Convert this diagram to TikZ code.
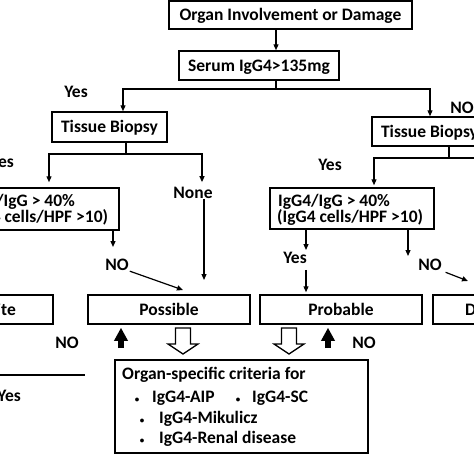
\documentclass[tikz,border=0pt]{standalone}
\usepackage{fontspec}
\setmainfont{Carlito}
\usetikzlibrary{arrows.meta,calc}
\newcommand\bx{\fontsize{17.5}{17}\selectfont\bfseries}
\newcommand\bul{{\fontsize{9}{9}\selectfont\textbullet}}
\begin{document}
\begin{tikzpicture}[x=1pt,y=-1pt,
  box/.style={draw, line width=1.5pt, inner sep=0pt, text height=11.3pt, text depth=0pt, font=\bx},
  lbl/.style={inner sep=0pt, text height=11.3pt, text depth=0pt, font=\bx},
  conn/.style={line width=1.2pt},
  arr/.style={conn, -{Triangle[length=6pt,width=5pt]}},
  thickarr/.style={line width=6pt, -{Triangle[length=13pt,width=13pt]}},
  hollow/.pic={\draw[line width=1.3pt, fill=white] (-7.5,0) -- (7.5,0) -- (7.5,16) -- (15,16) -- (0,26) -- (-15,16) -- (-7.5,16) -- cycle;}]
\useasboundingbox (0,0) rectangle (474,474);
\clip (0,0) rectangle (474,474);
% boxes
\node[box, minimum width=243pt, minimum height=28pt] (org) at (290.5,15) {Organ Involvement or Damage};
\node[box, minimum width=160pt, minimum height=29pt] (serum) at (259,65.5) {Serum IgG4>135mg};
\node[box, minimum width=115pt, minimum height=30pt] (tbL) at (109.5,127) {Tissue Biopsy};
\node[box, minimum width=115pt, minimum height=29pt] (tbR) at (429.5,131.5) {Tissue Biopsy};
\node[box, minimum width=164pt, minimum height=42pt] (igL) at (37,209) {};
\node[box, minimum width=164pt, minimum height=41pt] (igR) at (352,208.5) {};
\node[lbl, anchor=west] (igL1) at (-37,201) {IgG4/IgG > 40\%};
\node[lbl, anchor=west] (igL2) at (-38,217) {(IgG4 cells/HPF >10)};
\node[lbl, anchor=west] (igR1) at (278,201) {IgG4/IgG > 40\%};
\node[lbl, anchor=west] (igR2) at (277,217) {(IgG4 cells/HPF >10)};
\node[box, minimum width=132pt, minimum height=29pt] (defL) at (-13,309.5) {Definite};
\node[box, minimum width=162pt, minimum height=29pt] (poss) at (169,309.5) {Possible};
\node[box, minimum width=162pt, minimum height=29pt] (prob) at (341,309.5) {Probable};
\node[box, minimum width=122pt, minimum height=29pt] (defR) at (494,309.5) {Definite};
\node[box, minimum width=253pt, minimum height=93pt] (crit) at (241.5,406.5) {};
\node[lbl, anchor=west] (c1) at (122,374) {Organ-specific criteria for};
\node[lbl] (b1) at (137,397) {\bul};
\node[lbl, anchor=west] (c2) at (152,397) {IgG4-AIP};
\node[lbl] (b2) at (238,397) {\bul};
\node[lbl, anchor=west] (c3) at (252,397) {IgG4-SC};
\node[lbl] (b3) at (142,418) {\bul};
\node[lbl, anchor=west] (c4) at (159,418) {IgG4-Mikulicz};
\node[lbl] (b4) at (142,438) {\bul};
\node[lbl, anchor=west] (c5) at (159,438) {IgG4-Renal disease};
% labels
\node[lbl] (yes1) at (76,92) {Yes};
\node[lbl] (no1) at (462,108) {NO};
\node[lbl, anchor=east] (yes2) at (14,162) {Yes};
\node[lbl] (none) at (193,193) {None};
\node[lbl] (yes3) at (330,165) {Yes};
\node[lbl] (no2) at (117,265) {NO};
\node[lbl] (yes4) at (295,258) {Yes};
\node[lbl] (no3) at (430,265) {NO};
\node[lbl] (no4) at (67,343) {NO};
\node[lbl] (no5) at (364,343) {NO};
\node[lbl, anchor=east] (yes5) at (21,396) {Yes};
% connectors
\coordinate (s1) at (276,89);
\coordinate (bL) at (123,89);
\coordinate (bR) at (430,89);
\draw[arr] (org.south -| s1) -- (serum.north -| s1);
\draw[conn] (serum.south -| s1) -- (s1);
\draw[arr] (s1) -- (bL) -- (tbL.north -| bL);
\draw[arr] (s1) -- (bR) -- (tbR.north -| bR);
\coordinate (t1) at (126,154);
\coordinate (t1a) at (49,154);
\coordinate (t1b) at (202,154);
\draw[conn] (tbL.south -| t1) -- (t1);
\draw[arr, shorten >=5pt] (t1) -- (t1a) -- (igL.north -| t1a);
\draw[arr, shorten >=5pt] (t1) -- (t1b) -- (none.north -| t1b);
\coordinate (nx) at (204,280);
\draw[arr] (none.south -| nx) -- (nx);
\coordinate (t2) at (449,158);
\coordinate (t2a) at (374,158);
\coordinate (t2b) at (490,158);
\draw[conn] (tbR.south -| t2) -- (t2);
\draw[conn] (t2) -- (t2b);
\draw[arr, shorten >=2pt] (t2) -- (t2a) -- (igR.north -| t2a);
\coordinate (d1) at (113,247);
\draw[arr] (igL.south -| d1) -- (d1);
\coordinate (d2) at (183,290);
\draw[arr, shorten <=1pt] (no2.south east) -- (d2);
\coordinate (d3) at (306,250);
\draw[arr] (igR.south -| d3) -- (d3);
\draw[arr, shorten <=6pt, shorten >=2pt] (yes4.south -| d3) -- (prob.north -| d3);
\coordinate (d4) at (408,256);
\draw[arr] (igR.south -| d4) -- (d4);
\coordinate (d5) at (468,281);
\draw[arr, shorten <=4pt] (no3.south east) -- (d5);
\coordinate (u1) at (121,348);
\coordinate (u2) at (328,348);
\draw[thickarr, shorten >=3pt] (u1) -- (poss.south -| u1);
\draw[thickarr, shorten >=3pt] (u2) -- (prob.south -| u2);
\coordinate (h1) at (183,328);
\coordinate (h2) at (289,328);
\pic at (h1) {hollow};
\pic at (h2) {hollow};
\coordinate (L1) at (0,375);
\coordinate (L2) at (85,375);
\draw[line width=2.5pt] (L1) -- (L2);
\end{tikzpicture}
\end{document}
